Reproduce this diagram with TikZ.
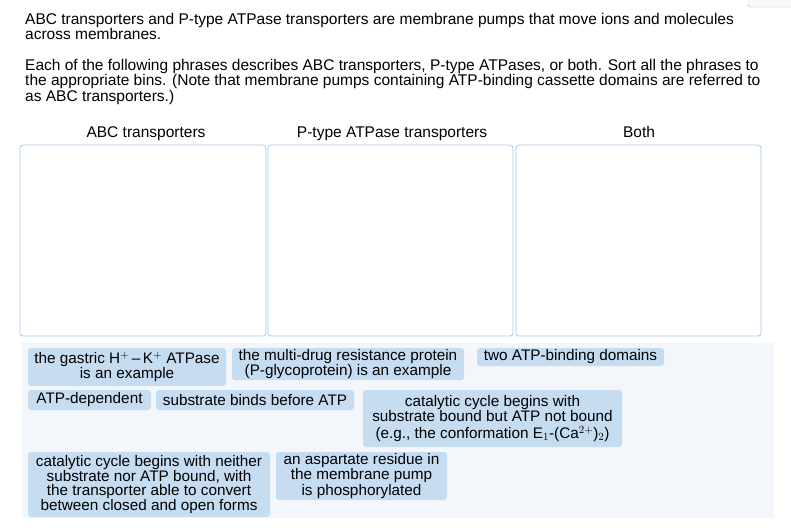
\documentclass[tikz,border=0pt]{standalone}
\usepackage{fontspec}
\setmainfont{Liberation Sans}
\begin{document}
\begin{tikzpicture}[x=1pt,y=-1pt,
  bin/.style={draw=binc,rounded corners=3pt,line width=0.8pt},
  chip/.style={fill=chipc,rounded corners=3pt,align=center,inner sep=0pt,font=\fontsize{15.3}{12.5}\selectfont},
  head/.style={font=\fontsize{15.5}{14}\selectfont,anchor=base},
  para/.style={anchor=north west,align=left,inner sep=0pt,font=\fontsize{15.5}{12.5}\selectfont}]
\definecolor{binc}{HTML}{A9C8EC}
\definecolor{chipc}{HTML}{C6DCF1}
\definecolor{trayc}{HTML}{F3F7FC}
\useasboundingbox (0,0) rectangle (791,531);
\fill[white] (0,0) rectangle (791,531);
\draw[gray!60,rounded corners=3pt,fill=gray!5] (748,-5) rectangle (800,7);
\node[para] (p1) at (25,13) {ABC transporters and P-type ATPase transporters are membrane pumps that move ions and molecules\\across membranes.};
\node[para] (p2) at (25,59) {Each of the following phrases describes ABC transporters, P-type ATPases, or both. Sort all the phrases to\\the appropriate bins. (Note that membrane pumps containing ATP-binding cassette domains are referred to\\as ABC transporters.)};
\node[head] (h1) at (146,137) {ABC transporters};
\node[head] (h2) at (392,137) {P-type ATPase transporters};
\node[head] (h3) at (639,137) {Both};
\draw[bin] (20,145) rectangle (266,336);
\draw[bin] (268,145) rectangle (513,336);
\draw[bin] (516,145) rectangle (761,336);
\fill[trayc] (22,343) rectangle (774,518);
\node[chip,minimum width=198,minimum height=38] (c1) at (127,367) {the gastric H$^{+}$\,--\,K$^{+}$ ATPase\\is an example};
\node[chip,minimum width=232,minimum height=32] (c2) at (348,364) {the multi-drug resistance protein\\(P-glycoprotein) is an example};
\node[chip,minimum width=187,minimum height=18] (c3) at (570.5,357) {two ATP-binding domains};
\node[chip,minimum width=123,minimum height=20] (c4) at (89.5,400) {ATP-dependent};
\node[chip,minimum width=198,minimum height=20] (c5) at (255,400) {substrate binds before ATP};
\node[chip,minimum width=259,minimum height=57] (c6) at (492.5,418.5) {catalytic cycle begins with\\substrate bound but ATP not bound\\[4pt](e.g., the conformation E$_1$-(Ca$^{2+}$)$_2$)};
\node[chip,minimum width=242,minimum height=65] (c7) at (149,484.5) {catalytic cycle begins with neither\\substrate nor ATP bound, with\\the transporter able to convert\\between closed and open forms};
\node[chip,minimum width=171,minimum height=48] (c8) at (361.5,476) {an aspartate residue in\\the membrane pump\\is phosphorylated};
\end{tikzpicture}
\end{document}
